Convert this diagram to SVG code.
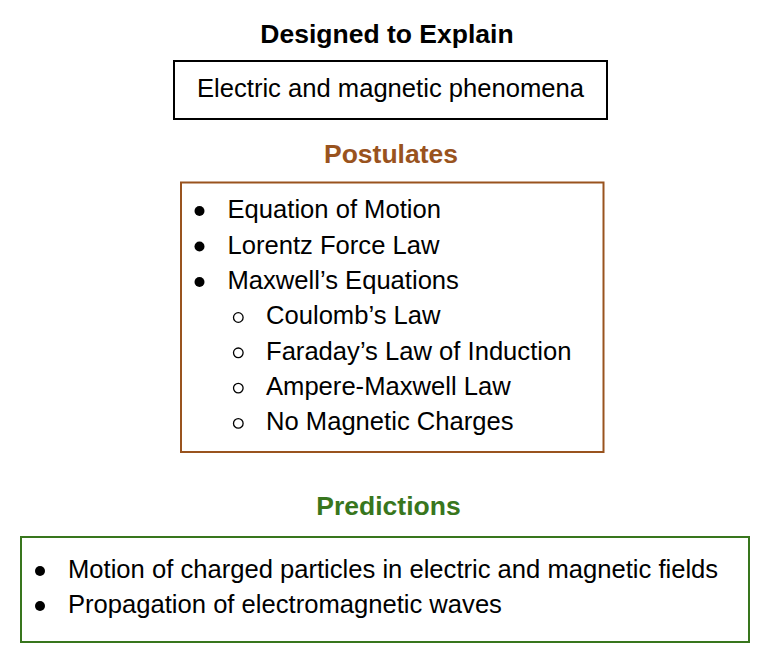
<svg xmlns="http://www.w3.org/2000/svg" width="768" height="657" viewBox="0 0 768 657">
<style>
text{font-family:"Liberation Sans",Arial,sans-serif;fill:#000}
.body{font-size:25.6px}
.head{font-size:26.5px;font-weight:bold}
.brown{fill:#99531e}
.green{fill:#38761d}
.dot{fill:#000}
.ring{fill:none;stroke:#000;stroke-width:1.3}
</style>
<rect width="768" height="657" fill="#fff"/>
<g id="explain">
<text class="head" x="387" y="43" text-anchor="middle">Designed to Explain</text>
<rect x="174" y="61" width="433" height="58" fill="none" stroke="#000" stroke-width="2"/>
<text class="body" x="390.5" y="97" text-anchor="middle">Electric and magnetic phenomena</text>
</g>
<g id="postulates">
<text class="head brown" x="391" y="163" text-anchor="middle">Postulates</text>
<rect x="181" y="182.5" width="422.5" height="269.5" fill="none" stroke="#99531e" stroke-width="2"/>
<circle class="dot" cx="199.5" cy="211" r="5"/>
<text class="body" x="227.5" y="218">Equation of Motion</text>
<circle class="dot" cx="199.5" cy="246.5" r="5"/>
<text class="body" x="227.5" y="253.5">Lorentz Force Law</text>
<circle class="dot" cx="199.5" cy="282" r="5"/>
<text class="body" x="227.5" y="289">Maxwell’s Equations</text>
<circle class="ring" cx="238.3" cy="317.5" r="4.8"/>
<text class="body" x="266" y="324.3">Coulomb’s Law</text>
<circle class="ring" cx="238.3" cy="352.8" r="4.8"/>
<text class="body" x="266" y="359.6">Faraday’s Law of Induction</text>
<circle class="ring" cx="238.3" cy="388.1" r="4.8"/>
<text class="body" x="266" y="394.9">Ampere-Maxwell Law</text>
<circle class="ring" cx="238.3" cy="423.4" r="4.8"/>
<text class="body" x="266" y="430.2">No Magnetic Charges</text>
</g>
<g id="predictions">
<text class="head green" x="388.5" y="514.5" text-anchor="middle">Predictions</text>
<rect x="21" y="537" width="728" height="105" fill="none" stroke="#38761d" stroke-width="2"/>
<circle class="dot" cx="40" cy="571" r="5"/>
<text class="body" x="68" y="578">Motion of charged particles in electric and magnetic fields</text>
<circle class="dot" cx="40" cy="606" r="5"/>
<text class="body" x="68" y="613">Propagation of electromagnetic waves</text>
</g>
</svg>
